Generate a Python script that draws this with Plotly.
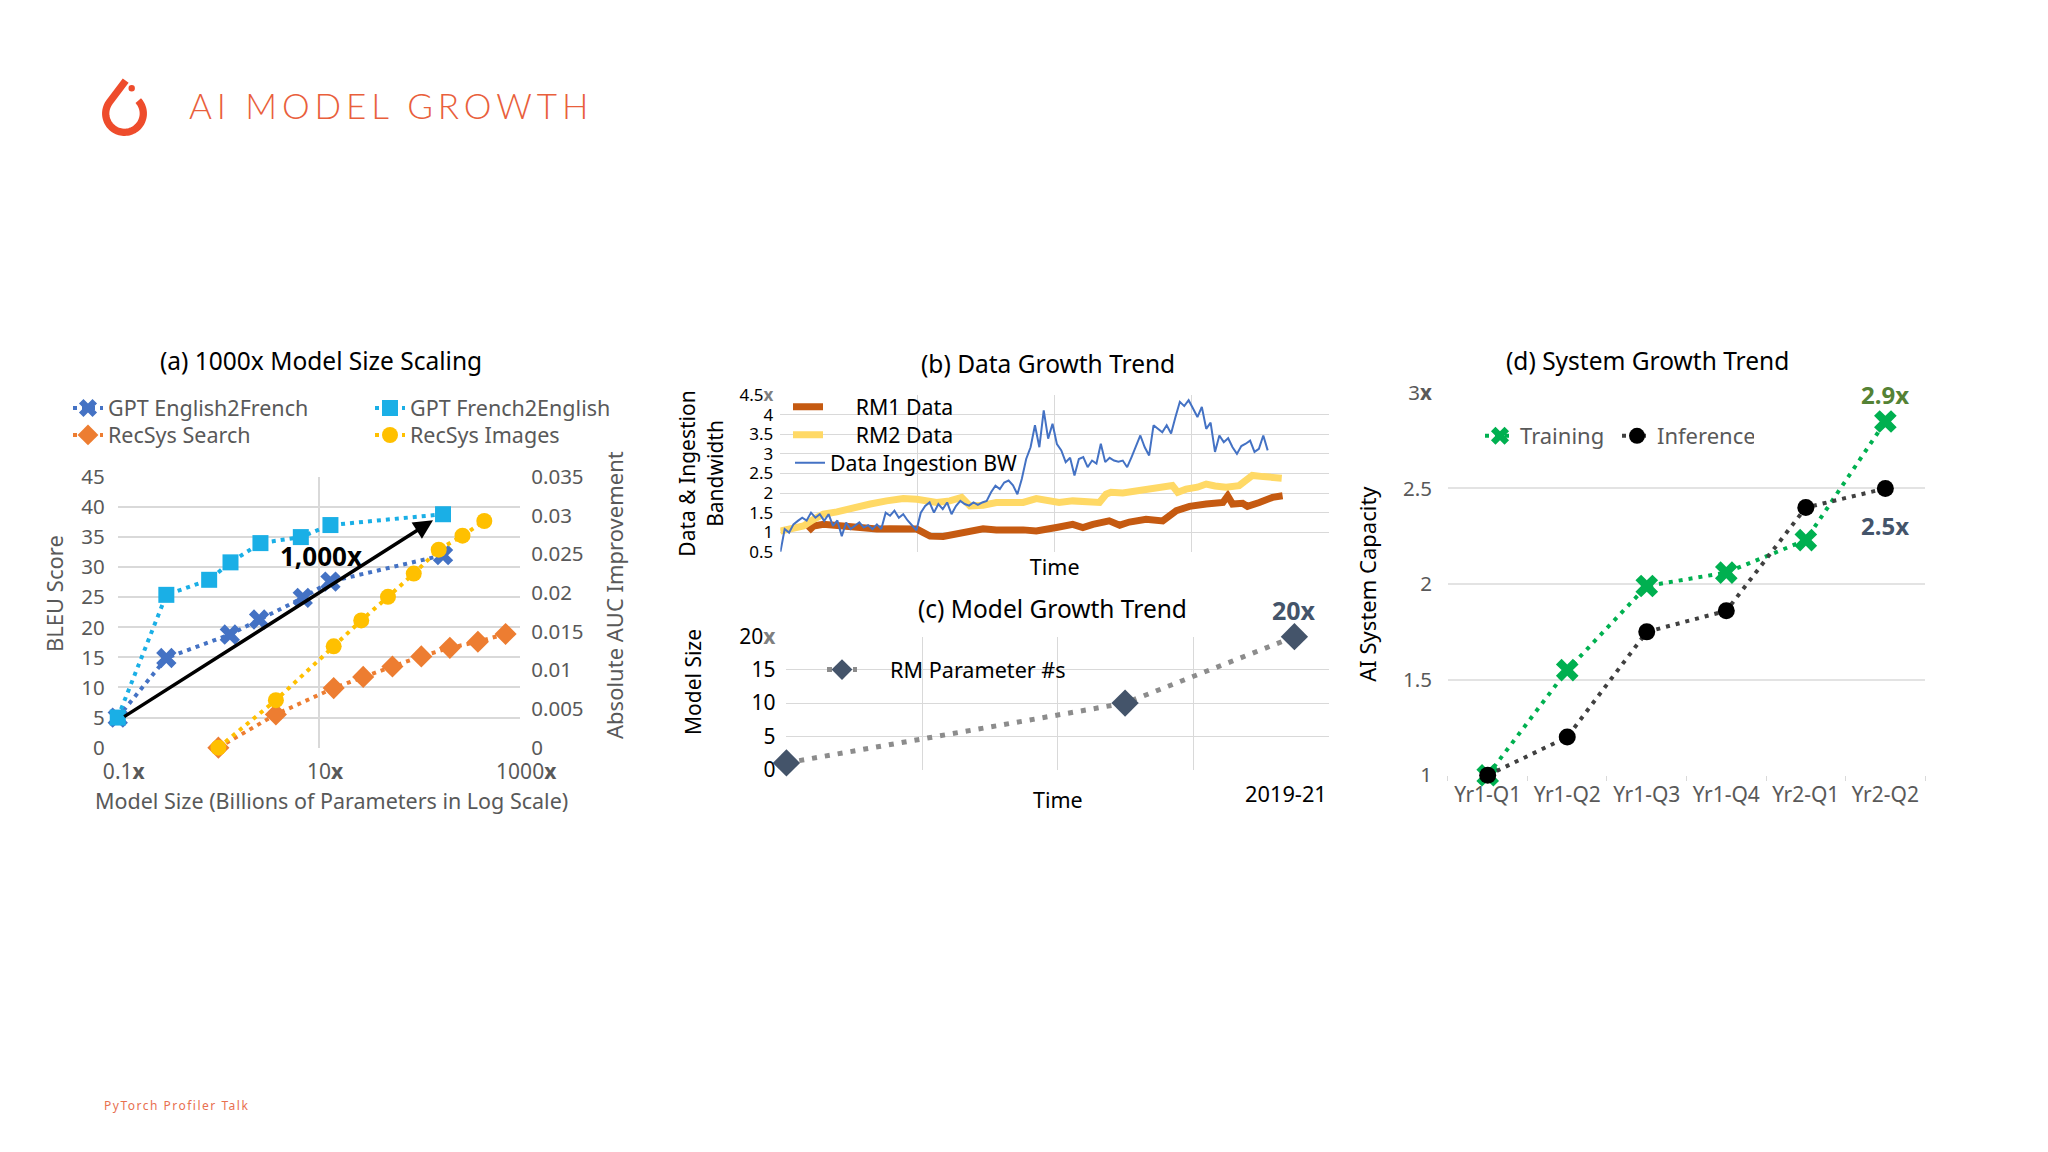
import numpy as np
import plotly.graph_objects as go

W, H = 2048, 1152
FONT = "Noto Sans"
GRAY = "#595959"
GRID = "#D9D9D9"
XGRAY = "#7f7f7f"
NB = "\u00a0"

# ---------------- (a) 1000x Model Size Scaling ----------------
gpt_e2f_size = [0.1, 0.304, 1.3, 2.54, 6.9, 13, 171]
gpt_e2f_bleu = [5, 14.9, 18.8, 21.3, 24.9, 27.6, 32]
gpt_f2e_size = [0.1, 0.304, 0.81, 1.32, 2.62, 6.6, 13, 171]
gpt_f2e_bleu = [5, 25.4, 27.9, 30.8, 34, 35, 37, 38.8]
recsys_search_size = [1.0, 3.73, 14, 27.5, 53.7, 104, 200, 380, 716]
recsys_search_auc = [0, 0.0043, 0.0077, 0.00915, 0.0105, 0.0118, 0.0129, 0.0137, 0.0147]
recsys_images_size = [1.0, 3.73, 14, 26.3, 48.5, 87.5, 155, 267, 440]
recsys_images_auc = [0, 0.00614, 0.0131, 0.01645, 0.0195, 0.0225, 0.0256, 0.0274, 0.0293]
arrow_from = [0.112, 5]
arrow_to = [136, 37.8]
arrow_label = [10.4, 31.8]
a_xticks = [0.1, 10, 1000]
a_xticklabels = ["0.1", "10", "1000"]
a_yticks = [0, 5, 10, 15, 20, 25, 30, 35, 40, 45]
a_y2ticks = [0, 0.005, 0.01, 0.015, 0.02, 0.025, 0.03, 0.035]
a_y2ticklabels = ["0", "0.005", "0.01", "0.015", "0.02", "0.025", "0.03", "0.035"]

# ---------------- (b) Data Growth Trend ----------------
ingestion_bw = [0.48, 1.08, 0.99, 1.2, 1.29, 1.37, 1.3, 1.5, 1.37, 1.46, 1.29, 1.46, 1.16, 1.3, 0.9,
                1.25, 1.08, 1.16, 1.25, 1.12, 1.18, 1.08, 1.2, 1.08, 1.5, 1.42, 1.55, 1.37, 1.46, 1.3,
                1.16, 1.05, 1.5, 1.67, 1.76, 1.5, 1.72, 1.59, 1.76, 1.46, 1.67, 1.8, 1.72, 1.68, 1.76,
                1.7, 1.76, 1.8, 2.02, 2.19, 2.1, 2.27, 2.32, 2.2, 1.97, 2.36, 2.87, 3.17, 3.73, 3.17,
                4.11, 3.39, 3.77, 3.25, 3.09, 2.79, 2.9, 2.45, 2.87, 2.92, 2.66, 2.83, 2.75, 3.26, 2.79,
                2.9, 2.83, 2.8, 2.83, 2.66, 2.92, 3.2, 3.47, 3.17, 2.96, 3.73, 3.64, 3.55, 3.73, 3.52,
                3.94, 4.33, 4.22, 4.37, 4.16, 3.94, 4.2, 3.64, 3.8, 3.05, 3.47, 3.3, 3.4, 3.17, 3.0,
                3.2, 3.26, 3.34, 3.05, 3.13, 3.47, 3.09]
rm2_time = [0, 2.3, 5.3, 7.6, 9.8, 12.9, 16.7, 20.5, 24.2, 28, 31.1, 33.3, 35.6, 38.6, 41.3, 43.2,
            46.2, 49.2, 52.3, 55.3, 58.3, 61.4, 63.5, 66.6, 70, 72.7, 74.2, 75.3, 78, 81.8, 85,
            89.3, 90.5, 92.4, 95, 97, 99, 101.5, 104.5, 106, 107.5, 110, 112, 114.2]
rm2_data = [1.03, 1.08, 1.16, 1.33, 1.46, 1.52, 1.63, 1.72, 1.8, 1.86, 1.84, 1.8, 1.76, 1.8, 1.89, 1.67,
            1.69, 1.76, 1.74, 1.76, 1.86, 1.8, 1.76, 1.8, 1.78, 1.76, 1.97, 2.02, 2.0, 2.06, 2.1,
            2.19, 2.02, 2.1, 2.15, 2.23, 2.18, 2.15, 2.19, 2.3, 2.45, 2.42, 2.4, 2.38]
rm1_time = [6.4, 7.6, 9.8, 12.9, 15.9, 18.9, 22, 25, 28, 31.1, 32.6, 34.1, 37.1, 40.2, 43.2, 46.2,
            49.2, 52.3, 55.3, 58.3, 61.4, 62.9, 66.6, 68.9, 71.2, 74.9, 77.3, 79.5, 83.3, 87.1,
            90.2, 93.2, 97, 100.8, 101.9, 103, 105.3, 106.4, 109.1, 112.1, 114.4]
rm1_data = [1.03, 1.16, 1.2, 1.16, 1.12, 1.12, 1.08, 1.09, 1.09, 1.08, 0.99, 0.9, 0.89, 0.95, 1.03, 1.09,
            1.06, 1.08, 1.06, 1.03, 1.12, 1.12, 1.2, 1.12, 1.2, 1.29, 1.18, 1.26, 1.33, 1.29,
            1.55, 1.66, 1.72, 1.76, 1.93, 1.72, 1.74, 1.66, 1.76, 1.89, 1.93]
b_yticks = [0.5, 1, 1.5, 2, 2.5, 3, 3.5, 4, 4.5]
b_yticklabels = ["0.5", "1", "1.5", "2", "2.5", "3", "3.5", "4", "4.5"]

# ---------------- (c) Model Growth Trend ----------------
rm_time = [0, 62.4, 93.6]
rm_params = [1, 10, 20]
c_yticks = [0, 5, 10, 15, 20]
c_yticklabels = ["0", "5", "10", "15", "20"]

# ---------------- (d) System Growth Trend ----------------
quarters = ["Yr1-Q1", "Yr1-Q2", "Yr1-Q3", "Yr1-Q4", "Yr2-Q1", "Yr2-Q2"]
training = [1.0, 1.55, 1.99, 2.06, 2.23, 2.85]
inference = [1.0, 1.2, 1.75, 1.86, 2.4, 2.5]
d_yticks = [1, 1.5, 2, 2.5, 3]
d_yticklabels = ["1", "1.5", "2", "2.5", "3"]


def bold_x(labels, color=XGRAY):
    out = list(labels)
    out[-1] = out[-1] + '<span style="color:%s"><b>x</b></span>' % color
    return out


def dotted(color, width=4, dash="4px,5px"):
    return dict(color=color, width=width, dash=dash)


fig = go.Figure()

# (a) traces
fig.add_trace(go.Scatter(x=gpt_e2f_size, y=gpt_e2f_bleu, mode="lines+markers", name="GPT English2French",
                         line=dotted("#4472C4"), marker=dict(symbol="x", size=18, color="#4472C4"),
                         xaxis="x", yaxis="y", legend="legend", cliponaxis=False))
fig.add_trace(go.Scatter(x=gpt_f2e_size, y=gpt_f2e_bleu, mode="lines+markers", name="GPT French2English",
                         line=dotted("#1AAFE6"), marker=dict(symbol="square", size=16, color="#1AAFE6"),
                         xaxis="x", yaxis="y", legend="legend", cliponaxis=False))
fig.add_trace(go.Scatter(x=recsys_search_size, y=recsys_search_auc, mode="lines+markers", name="RecSys Search",
                         line=dotted("#ED7D31"), marker=dict(symbol="diamond", size=17, color="#ED7D31"),
                         xaxis="x", yaxis="y2", legend="legend2", cliponaxis=False))
fig.add_trace(go.Scatter(x=recsys_images_size, y=recsys_images_auc, mode="lines+markers", name="RecSys Images",
                         line=dotted("#FFC000"), marker=dict(symbol="circle", size=16, color="#FFC000"),
                         xaxis="x", yaxis="y2", legend="legend2", cliponaxis=False))

# (b) traces
fig.add_trace(go.Scatter(x=rm1_time, y=rm1_data, mode="lines", name=NB * 5 + "RM1 Data",
                         line=dict(color="#C55A11", width=7), xaxis="x2", yaxis="y3", legend="legend3"))
fig.add_trace(go.Scatter(x=rm2_time, y=rm2_data, mode="lines", name=NB * 5 + "RM2 Data",
                         line=dict(color="#FFD966", width=7), xaxis="x2", yaxis="y3", legend="legend4"))
fig.add_trace(go.Scatter(y=ingestion_bw, mode="lines", name="Data Ingestion BW",
                         line=dict(color="#4472C4", width=2), xaxis="x2", yaxis="y3", legend="legend5"))

# (c) trace
fig.add_trace(go.Scatter(x=rm_time, y=rm_params, mode="lines+markers", name=NB * 5 + "RM Parameter #s",
                         line=dotted("#8C8C8C", width=5, dash="5px,8px"),
                         marker=dict(symbol="diamond", size=21, color="#44546A"),
                         xaxis="x3", yaxis="y4", legend="legend6", cliponaxis=False))

# (d) traces
fig.add_trace(go.Scatter(x=quarters, y=training, mode="lines+markers", name="Training",
                         line=dotted("#00B050", width=4, dash="4px,6px"),
                         marker=dict(symbol="x", size=20, color="#00B050"),
                         xaxis="x4", yaxis="y5", legend="legend7", cliponaxis=False))
fig.add_trace(go.Scatter(x=quarters, y=inference, mode="lines+markers", name="Inference",
                         line=dotted("#404040", width=4, dash="4px,6px"),
                         marker=dict(symbol="circle", size=17, color="#000000"),
                         xaxis="x4", yaxis="y5", legend="legend7", cliponaxis=False))

tick_gray = dict(family=FONT, size=20.5, color=GRAY)
title_gray = dict(family=FONT, size=22, color=GRAY)
title_black = dict(family=FONT, size=21.5, color="#000000")


def leg(x, y, size, color, orientation="v", **kw):
    d = dict(x=x, y=y, xanchor="left", yanchor="middle", orientation=orientation,
             font=dict(family=FONT, size=size, color=color), itemwidth=30,
             bgcolor="rgba(0,0,0,0)")
    d.update(kw)
    return d


fig.update_layout(
    width=W, height=H,
    margin=dict(l=0, r=0, t=0, b=0),
    paper_bgcolor="white", plot_bgcolor="white",
    font=dict(family=FONT, color=GRAY),
    # (a)
    xaxis=dict(domain=[0.0575, 0.254], anchor="y", type="log", range=[-1, 3],
               tickvals=a_xticks, ticktext=[t + '<span style="color:%s"><b>x</b></span>' % GRAY for t in a_xticklabels],
               showgrid=True, gridcolor=GRID, gridwidth=1.5, zeroline=False, showline=False,
               tickfont=dict(family=FONT, size=21, color=GRAY), ticklabelstandoff=9, ticklabelshift=6,
               automargin=False),
    yaxis=dict(domain=[0.351, 0.586], anchor="x", range=[0, 45], tickvals=a_yticks,
               showgrid=True, gridcolor=GRID, gridwidth=1.5, zeroline=False, showline=False,
               tickfont=tick_gray, ticklabelstandoff=12, automargin=False),
    yaxis2=dict(overlaying="y", side="right", anchor="x", range=[0, 0.035],
                tickvals=a_y2ticks, ticktext=a_y2ticklabels, showgrid=False, zeroline=False,
                tickfont=tick_gray, ticklabelstandoff=10, automargin=False),
    # (b)
    xaxis2=dict(domain=[0.381, 0.649], anchor="y3", range=[0, 125], dtick=31.25, tick0=0,
                showticklabels=False, showgrid=True, gridcolor=GRID, zeroline=False, showline=False,
                title=dict(text="Time", font=title_black, standoff=8), automargin=False),
    yaxis3=dict(domain=[0.521, 0.657], anchor="x2", range=[0.5, 4.5], tickvals=b_yticks,
                ticktext=bold_x(b_yticklabels), showgrid=True, gridcolor=GRID, zeroline=False,
                tickfont=dict(family=FONT, size=17, color="#000000"), ticklabelstandoff=6,
                title=dict(text="Data & Ingestion<br>Bandwidth", font=dict(family=FONT, size=21, color="#000000"),
                           standoff=10), automargin=False),
    # (c)
    xaxis3=dict(domain=[0.384, 0.649], anchor="y4", range=[0, 100], dtick=25, tick0=0,
                showticklabels=False, showgrid=True, gridcolor=GRID, zeroline=False, showline=False,
                title=dict(text="Time", font=dict(family=FONT, size=21.5, color="#000000"), standoff=23),
                automargin=False),
    yaxis4=dict(domain=[0.332, 0.4473], anchor="x3", range=[0, 20], tickvals=c_yticks,
                ticktext=bold_x(c_yticklabels), showgrid=True, gridcolor=GRID, zeroline=False,
                tickfont=dict(family=FONT, size=21, color="#000000"), ticklabelstandoff=10,
                automargin=False),
    # (d)
    xaxis4=dict(domain=[0.707, 0.940], anchor="y5", type="category", range=[-0.5, 5.5],
                showgrid=False, zeroline=False, showline=False, ticks="outside", tickson="boundaries",
                ticklen=5, tickcolor=GRID, tickfont=dict(family=FONT, size=21, color=GRAY),
                ticklabelstandoff=5, automargin=False),
    yaxis5=dict(domain=[0.327, 0.659], anchor="x4", range=[1, 3], tickvals=d_yticks,
                ticktext=bold_x(d_yticklabels, GRAY), showgrid=True, gridcolor="#E3E3E3", gridwidth=1.5,
                zeroline=False, tickfont=tick_gray, ticklabelstandoff=15,
                title=dict(text="AI System Capacity", font=dict(family=FONT, size=22, color="#000000"),
                           standoff=20), automargin=False),
    showlegend=True,
    legend=leg(0.0332, 0.6458, 21.5, GRAY, "h", entrywidth=257),
    legend2=leg(0.0332, 0.6224, 21.5, GRAY, "h", entrywidth=257),
    legend3=leg(788 / W, 1 - 407 / H, 21.3, "#000000"),
    legend4=leg(788 / W, 1 - 435 / H, 21.3, "#000000"),
    legend5=leg(790 / W, 1 - 463 / H, 21.3, "#000000"),
    legend6=leg(822 / W, 1 - 670 / H, 21.6, "#000000"),
    legend7=leg(1480 / W, 1 - 436 / H, 22, GRAY, "h", entrywidth=92),
)

ann = []
# main title and footer
ann.append(dict(text='<span style="letter-spacing:4.9px">AI MODEL GROWTH</span>', x=187 / W, y=1 - 105 / H,
                xref="paper", yref="paper", xanchor="left", yanchor="middle", showarrow=False,
                font=dict(family="Lato", size=35, color="#E95F3C", weight=300)))
ann.append(dict(text='<span style="letter-spacing:1.5px">PyTorch Profiler Talk</span>', x=102 / W, y=1 - 1105 / H,
                xref="paper", yref="paper", xanchor="left", yanchor="middle", showarrow=False,
                font=dict(family=FONT, size=12, color="#E8704F")))
# panel titles
for txt, cx, cy in [("(a) 1000x Model Size Scaling", 321, 360), ("(b) Data Growth Trend", 1048, 363),
                    ("(c) Model Growth Trend", 1052, 608), ("(d) System Growth Trend", 1647, 360)]:
    ann.append(dict(text=txt, x=cx / W, y=1 - cy / H, xref="paper", yref="paper", xanchor="center",
                    yanchor="middle", showarrow=False, font=dict(family=FONT, size=24.5, color="#000000")))
# axis titles placed as in the reference
for txt, cx, cy, ang, fnt in [("BLEU Score", 54, 594, -90, title_gray),
                              ("Absolute AUC Improvement", 614, 595, -90, title_gray),
                              ("Model Size (Billions of Parameters in Log Scale)", 331, 800, 0,
                               dict(family=FONT, size=21.5, color=GRAY)),
                              ("Model Size", 693, 682, -90, dict(family=FONT, size=21, color="#000000"))]:
    ann.append(dict(text=txt, x=cx / W, y=1 - cy / H, xref="paper", yref="paper", xanchor="center",
                    yanchor="middle", textangle=ang, showarrow=False, font=fnt))
# (a) arrow and label
ann.append(dict(x=np.log10(arrow_to[0]), y=arrow_to[1], ax=np.log10(arrow_from[0]), ay=arrow_from[1],
                xref="x", yref="y", axref="x", ayref="y", text="", showarrow=True,
                arrowhead=2, arrowsize=1.1, arrowwidth=3.5, arrowcolor="#000000"))
ann.append(dict(x=np.log10(arrow_label[0]), y=arrow_label[1], xref="x", yref="y", text="<b>1,000x</b>",
                showarrow=False, font=dict(family=FONT, size=26, color="#000000")))
# (c) labels
ann.append(dict(x=rm_time[-1], y=rm_params[-1], xref="x3", yref="y4", text="<b>20x</b>", yshift=27,
                showarrow=False, font=dict(family=FONT, size=25, color="#44546A")))
ann.append(dict(x=0.649, y=1 - 793 / H, xref="paper", yref="paper", text="2019-21", xanchor="right",
                yanchor="middle", showarrow=False, font=dict(family=FONT, size=21.8, color="#000000")))
# (d) labels
ann.append(dict(x=quarters[-1], y=training[-1], xref="x4", yref="y5", text="<b>2.9x</b>", yshift=27,
                showarrow=False, font=dict(family=FONT, size=24, color="#548235")))
ann.append(dict(x=quarters[-1], y=inference[-1], xref="x4", yref="y5", text="<b>2.5x</b>", yshift=-37,
                showarrow=False, font=dict(family=FONT, size=24, color="#44546A")))
fig.update_layout(annotations=ann)


# PyTorch logo (decoration)
def p(x, y):
    return "%.5f,%.5f" % (x / W, 1 - y / H)


cx, cy, r = 124.5, 113.5, 18.8
t0 = np.radians(143)
sx, sy = cx + r * np.cos(t0), cy - r * np.sin(t0)
tip = (sx + 0.6 * 27, sy - 0.8 * 27)
pts = [p(*tip)]
for deg in range(143, 405, 4):
    t = np.radians(deg)
    pts.append(p(cx + r * np.cos(t), cy - r * np.sin(t)))
logo_path = "M" + " L".join(pts)
logo_col = "#EE4C2C"
shapes = [
    dict(type="path", path=logo_path, xref="paper", yref="paper", line=dict(color=logo_col, width=7.3)),
    dict(type="circle", xref="paper", yref="paper", x0=(131.7 - 3.2) / W, x1=(131.7 + 3.2) / W,
         y0=1 - (88.3 + 3.2) / H, y1=1 - (88.3 - 3.2) / H, line=dict(width=0), fillcolor=logo_col),
]
fig.update_layout(shapes=shapes)

fig.write_html("out.html", config={"displayModeBar": False},
               post_script="document.body.style.margin='0px';document.body.style.overflow='hidden';")
